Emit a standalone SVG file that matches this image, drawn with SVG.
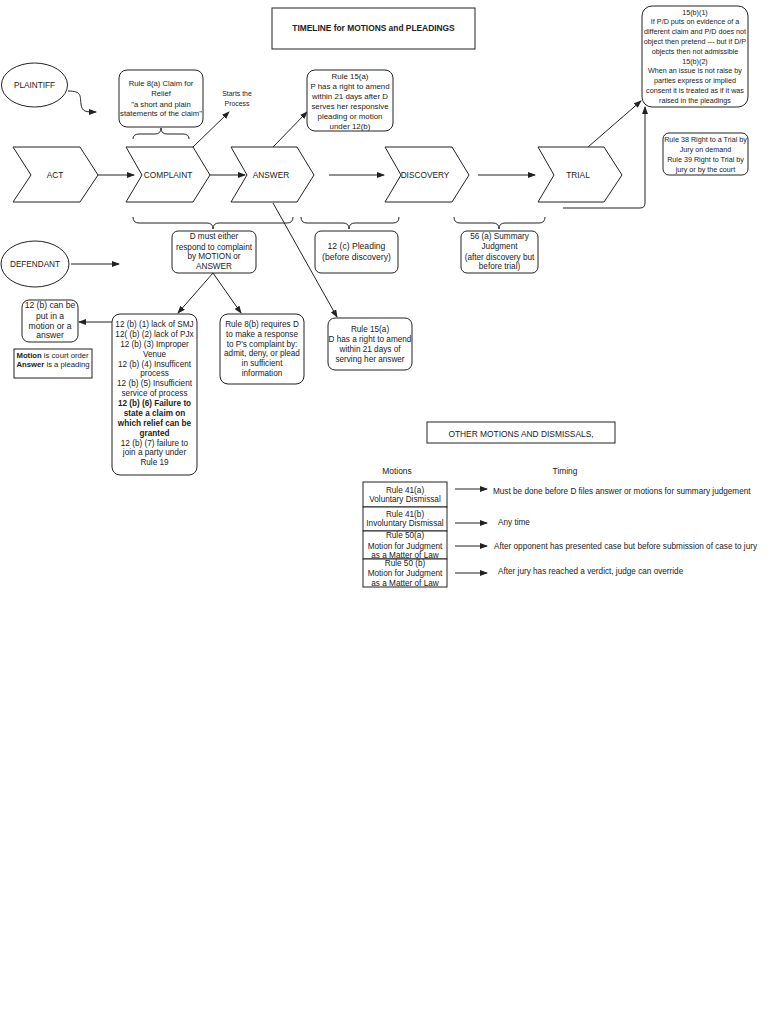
<svg xmlns="http://www.w3.org/2000/svg" width="768" height="1024" viewBox="0 0 768 1024">
<style>
.bg{fill:#fff}
.box{fill:#fff;stroke:#222;stroke-width:1}
.ln{fill:none;stroke:#222;stroke-width:1}
.t{font-family:"Liberation Sans",Arial,sans-serif;font-size:8.2px;fill:#222;text-anchor:middle}
.s{font-size:7.2px}
.c{font-size:8.3px}
.b{font-weight:bold}
.l{text-anchor:start}
</style>
<defs>
<marker id="ah" markerWidth="8" markerHeight="6" refX="7" refY="3" orient="auto" markerUnits="userSpaceOnUse">
<path d="M0,0 L8,3 L0,6 Z" fill="#222"/>
</marker>
</defs>
<rect class="bg" x="0" y="0" width="768" height="1024"/>

<g id="connectors">
<path class="ln" d="M68,91 C82,91 80,96 81,104 C82,112 86,112 96,112" marker-end="url(#ah)"/>
<path class="ln" d="M71,264 L119,264" marker-end="url(#ah)"/>
<path class="ln" d="M98,175 L134,175" marker-end="url(#ah)"/>
<path class="ln" d="M210,175 L245,175" marker-end="url(#ah)"/>
<path class="ln" d="M329,175 L384,175" marker-end="url(#ah)"/>
<path class="ln" d="M478,175 L535,175" marker-end="url(#ah)"/>
<path class="ln" d="M193,147 L229,112" marker-end="url(#ah)"/>
<path class="ln" d="M273,147 L307,112" marker-end="url(#ah)"/>
<path class="ln" d="M588,147 L641,101" marker-end="url(#ah)"/>
<path class="ln" d="M563,208 L640,208 Q645,208 645,203 L645,107" marker-end="url(#ah)"/>
<path class="ln" d="M273,203 L337,317" marker-end="url(#ah)"/>
<path class="ln" d="M213,273 L178,313" marker-end="url(#ah)"/>
<path class="ln" d="M213,273 L241,313" marker-end="url(#ah)"/>
<path class="ln" d="M112,322 L79,322" marker-end="url(#ah)"/>
<path class="ln" d="M455,489 L487,489" marker-end="url(#ah)"/>
<path class="ln" d="M455,523 L487,523" marker-end="url(#ah)"/>
<path class="ln" d="M455,546 L487,546" marker-end="url(#ah)"/>
<path class="ln" d="M455,573 L487,573" marker-end="url(#ah)"/>
<!-- braces -->
<path class="ln" d="M133,139 Q133,134 139,134 L155,134 Q161,134 161,128 Q161,134 167,134 L183,134 Q189,134 189,139"/>
<path class="ln" d="M133,217 Q133,223 139,223 L207,223 Q213,223 213,229 Q213,223 219,223 L287,223 Q293,223 293,217"/>
<path class="ln" d="M301,217 Q301,223 307,223 L343,223 Q349,223 349,229 Q349,223 355,223 L393,223 Q399,223 399,217"/>
<path class="ln" d="M454,217 Q454,223 460,223 L493,223 Q499,223 499,229 Q499,223 505,223 L539,223 Q545,223 545,217"/>
</g>

<g id="title">
<rect class="box" x="272" y="8" width="203" height="41"/>
<text class="t b" style="font-size:8.4px" x="373.5" y="31">TIMELINE for MOTIONS and PLEADINGS</text>
</g>

<g id="plaintiff">
<ellipse class="box" cx="34.5" cy="85" rx="33" ry="22"/>
<text class="t" x="34.5" y="88">PLAINTIFF</text>
</g>

<g id="defendant">
<ellipse class="box" cx="35" cy="264" rx="34" ry="23"/>
<text class="t" x="35" y="267">DEFENDANT</text>
</g>

<g id="act">
<path class="box" d="M13,147 L80,147 L98,175 L80,202 L13,202 L31,175 Z"/>
<text class="t c" x="55" y="178">ACT</text>
</g>
<g id="complaint">
<path class="box" d="M126,147 L193,147 L210,175 L193,202 L126,202 L142,175 Z"/>
<text class="t c" x="168" y="178">COMPLAINT</text>
</g>
<g id="answer">
<path class="box" d="M231,147 L297,147 L314,175 L297,202 L231,202 L247,175 Z"/>
<text class="t c" x="271" y="178">ANSWER</text>
</g>
<g id="discovery">
<path class="box" d="M385,147 L452,147 L469,175 L452,202 L385,202 L401,175 Z"/>
<text class="t c" x="425" y="178">DISCOVERY</text>
</g>
<g id="trial">
<path class="box" d="M538,147 L604,147 L622,175 L604,202 L538,202 L554,175 Z"/>
<text class="t c" x="578" y="178">TRIAL</text>
</g>

<g id="rule8a">
<rect class="box" x="119" y="70" width="84" height="57" rx="8"/>
<text class="t" style="font-size:7.7px" x="161" y="86">Rule 8(a) Claim for</text>
<text class="t" style="font-size:7.7px" x="161" y="96">Relief</text>
<text class="t" style="font-size:7.7px" x="161" y="106.5">"a short and plain</text>
<text class="t" style="font-size:7.7px" x="161" y="116">statements of the claim"</text>
</g>

<g id="starts">
<text class="t" style="font-size:6.9px" x="237" y="95.5">Starts the</text>
<text class="t" style="font-size:6.9px" x="237" y="105.5">Process</text>
</g>

<g id="rule15a-top">
<rect class="box" x="307" y="70" width="86" height="61" rx="8"/>
<text class="t" style="font-size:7.9px" x="350" y="79">Rule 15(a)</text>
<text class="t" style="font-size:7.9px" x="350" y="89">P has a right to amend</text>
<text class="t" style="font-size:7.9px" x="350" y="98.8">within 21 days after D</text>
<text class="t" style="font-size:7.9px" x="350" y="108.6">serves her responsive</text>
<text class="t" style="font-size:7.9px" x="350" y="118.8">pleading or motion</text>
<text class="t" style="font-size:7.9px" x="350" y="128.6">under 12(b)</text>
</g>

<g id="rule15b">
<rect class="box" x="642" y="6" width="106" height="101" rx="10"/>
<text class="t s" x="695" y="14.5">15(b)(1)</text>
<text class="t s" x="695" y="24.3">If P/D puts on evidence of a</text>
<text class="t s" x="695" y="34.1">different claim and P/D does not</text>
<text class="t s" x="695" y="43.9">object then pretend --- but if D/P</text>
<text class="t s" x="695" y="53.7">objects then not admissible</text>
<text class="t s" x="695" y="63.5">15(b)(2)</text>
<text class="t s" x="695" y="73.3">When an issue is not raise by</text>
<text class="t s" x="695" y="83.1">parties express or implied</text>
<text class="t s" x="695" y="92.9">consent it is treated as if it was</text>
<text class="t s" x="695" y="102.7">raised in the pleadings</text>
</g>

<g id="rule38">
<rect class="box" x="663" y="133" width="85" height="42" rx="6"/>
<text class="t s" x="705.5" y="141.5">Rule 38 Right to a Trial by</text>
<text class="t s" x="705.5" y="151.5">Jury on demand</text>
<text class="t s" x="705.5" y="161.5">Rule 39 Right to Trial by</text>
<text class="t s" x="705.5" y="171.5">jury or by the court</text>
</g>

<g id="dmust">
<rect class="box" x="172" y="231" width="84" height="42" rx="6"/>
<text class="t" x="214" y="239">D must either</text>
<text class="t" x="214" y="249.5">respond to complaint</text>
<text class="t" x="214" y="259">by MOTION or</text>
<text class="t" x="214" y="268.5">ANSWER</text>
</g>

<g id="rule12c">
<rect class="box" x="315" y="231" width="83" height="42" rx="6"/>
<text class="t" style="font-size:8.6px" x="356.5" y="249">12 (c) Pleading</text>
<text class="t" style="font-size:8.6px" x="356.5" y="260">(before discovery)</text>
</g>

<g id="rule56a">
<rect class="box" x="461" y="231" width="77" height="42" rx="6"/>
<text class="t" x="499.5" y="239">56 (a) Summary</text>
<text class="t" x="499.5" y="249">Judgment</text>
<text class="t" x="499.5" y="260">(after discovery but</text>
<text class="t" x="499.5" y="269">before trial)</text>
</g>

<g id="rule12b-note">
<rect class="box" x="22" y="300" width="56" height="42" rx="7"/>
<text class="t" style="font-size:8.6px" x="50" y="308">12 (b) can be</text>
<text class="t" style="font-size:8.6px" x="50" y="319">put in a</text>
<text class="t" style="font-size:8.6px" x="50" y="329">motion or a</text>
<text class="t" style="font-size:8.6px" x="50" y="338">answer</text>
</g>

<g id="motion-answer">
<rect class="box" x="14" y="349" width="78" height="29"/>
<text class="t l" style="font-size:7.7px" x="16.5" y="358">
<tspan class="b">Motion</tspan> is court order</text>
<text class="t l" style="font-size:7.7px" x="16.5" y="367">
<tspan class="b">Answer</tspan> is a pleading</text>
</g>

<g id="rule12b-list">
<rect class="box" x="112" y="314" width="85" height="161" rx="8"/>
<text class="t" x="154.5" y="327">12 (b) (1) lack of SMJ</text>
<text class="t" x="154.5" y="336.9">12( (b) (2) lack of PJx</text>
<text class="t" x="154.5" y="346.7">12 (b) (3) Improper</text>
<text class="t" x="154.5" y="356.6">Venue</text>
<text class="t" x="154.5" y="366.5">12 (b) (4) Insufficent</text>
<text class="t" x="154.5" y="376.4">process</text>
<text class="t" x="154.5" y="386.2">12 (b) (5) Insufficient</text>
<text class="t" x="154.5" y="396.1">service of process</text>
<text class="t b" x="154.5" y="406">12 (b) (6) Failure to</text>
<text class="t b" x="154.5" y="415.9">state a claim on</text>
<text class="t b" x="154.5" y="425.7">which relief can be</text>
<text class="t b" x="154.5" y="435.6">granted</text>
<text class="t" x="154.5" y="445.5">12 (b) (7) failure to</text>
<text class="t" x="154.5" y="455.4">join a party under</text>
<text class="t" x="154.5" y="465.2">Rule 19</text>
</g>

<g id="rule8b">
<rect class="box" x="220" y="314" width="84" height="70" rx="8"/>
<text class="t" x="262" y="327">Rule 8(b) requires D</text>
<text class="t" x="262" y="337">to make a response</text>
<text class="t" x="262" y="346.5">to P's complaint by:</text>
<text class="t" x="262" y="356">admit, deny, or plead</text>
<text class="t" x="262" y="366">in sufficient</text>
<text class="t" x="262" y="376">information</text>
</g>

<g id="rule15a-low">
<rect class="box" x="328" y="318" width="84" height="52" rx="7"/>
<text class="t" x="370" y="332">Rule 15(a)</text>
<text class="t" x="370" y="342">D has a right to amend</text>
<text class="t" x="370" y="352">within 21 days of</text>
<text class="t" x="370" y="362">serving her answer</text>
</g>

<g id="other">
<rect class="box" x="427" y="422" width="188" height="21"/>
<text class="t" style="font-size:8.4px" x="521" y="437">OTHER MOTIONS AND DISMISSALS,</text>
</g>

<g id="headers">
<text class="t" style="font-size:8.4px" x="397" y="474">Motions</text>
<text class="t" style="font-size:8.4px" x="565" y="474">Timing</text>
</g>

<g id="table">
<rect class="box" x="363" y="482" width="84" height="25"/>
<rect class="box" x="363" y="507" width="84" height="24"/>
<rect class="box" x="363" y="531" width="84" height="28"/>
<rect class="box" x="363" y="559" width="84" height="28"/>
<text class="t" x="405" y="493">Rule 41(a)</text>
<text class="t" x="405" y="502">Voluntary Dismissal</text>
<text class="t" x="405" y="517">Rule 41(b)</text>
<text class="t" x="405" y="526">Involuntary Dismissal</text>
<text class="t" x="405" y="538">Rule 50(a)</text>
<text class="t" x="405" y="549">Motion for Judgment</text>
<text class="t" x="405" y="558">as a Matter of Law</text>
<text class="t" x="405" y="566">Rule 50 (b)</text>
<text class="t" x="405" y="576">Motion for Judgment</text>
<text class="t" x="405" y="586">as a Matter of Law</text>
</g>

<g id="timing">
<text class="t l" x="493" y="494">Must be done before D files answer or motions for summary judgement</text>
<text class="t l" x="498" y="525">Any time</text>
<text class="t l" x="494" y="549">After opponent has presented case but before submission of case to jury</text>
<text class="t l" x="498" y="574">After jury has reached a verdict, judge can override</text>
</g>
</svg>
